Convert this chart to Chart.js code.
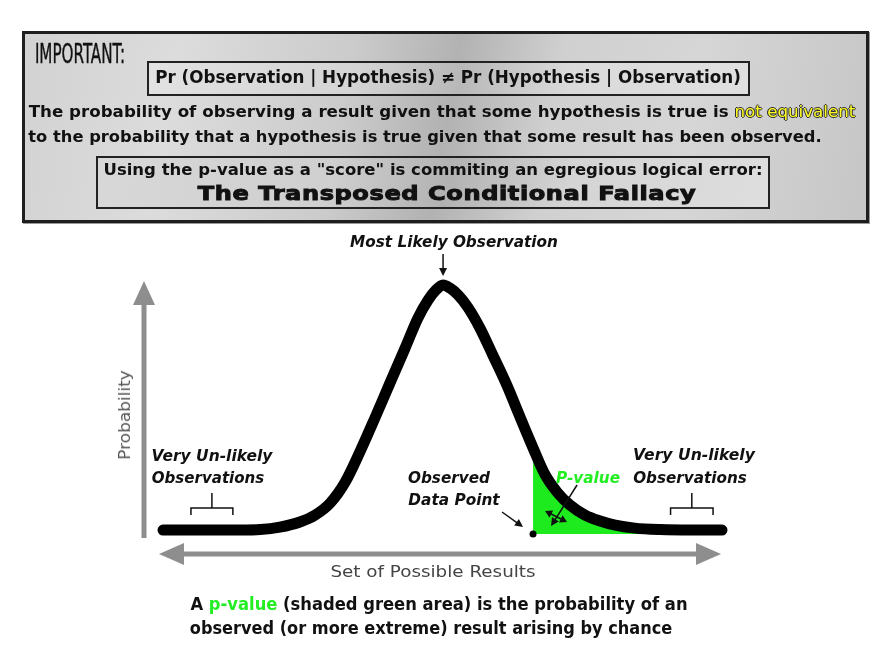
<!DOCTYPE html>
<html>
<head>
<meta charset="utf-8">
<script src="https://cdn.jsdelivr.net/npm/chart.js@4.4.1/dist/chart.umd.min.js"></script>
<style>
body { margin:0; width:890px; height:653px; background:#fff; overflow:hidden; position:relative; font-family:"DejaVu Sans", sans-serif; }
#grafica { position:absolute; left:0; top:0; }
.caja { position:absolute; box-sizing:border-box; }
#cajaGrande { left:22px; top:31px; width:847px; height:192px; border:3px solid #1e1e1e;
  background: linear-gradient(100deg, #d2d2d2 0%, #dcdcdc 18%, #cbcbcb 38%, #b2b2b2 50%, #d0d0d0 62%, #d6d6d6 78%, #c6c6c6 100%);
  box-shadow: 1px 1px 0 #999; }
#cajaFormula { left:147px; top:61px; width:603px; height:35px; border:2px solid #222;
  background: linear-gradient(100deg, #e2e2e2 0%, #d4d4d4 35%, #b8b8b8 52%, #dadada 70%, #e0e0e0 100%); }
#cajaFalacia { left:96px; top:156px; width:674px; height:53px; border:2px solid #222;
  background: linear-gradient(100deg, #d8d8d8 0%, #cfcfcf 35%, #b2b2b2 52%, #d4d4d4 70%, #dedede 100%); }
.t { position:absolute; white-space:nowrap; line-height:1; color:#111; }
.neg { font-weight:bold; }
.anot { font-weight:bold; font-style:italic; font-size:16px; color:#111; }
</style>
</head>
<body>
<div class="caja" id="cajaGrande"></div>
<div class="caja" id="cajaFormula"></div>
<div class="caja" id="cajaFalacia"></div>
<canvas id="grafica" width="890" height="653"></canvas>

<div class="t" data-x="80" data-y="53" data-w="90" style="font-family:'Liberation Sans Narrow','DejaVu Sans Condensed',sans-serif;font-size:27px;-webkit-text-stroke:0.4px #111;">IMPORTANT:</div>
<div class="t neg" data-x="448" data-y="77" data-w="586" style="font-size:17px;">Pr (Observation | Hypothesis) ≠ Pr (Hypothesis | Observation)</div>
<div class="t neg" data-x="441.5" data-y="112" data-w="827" style="font-size:16px;">The probability of observing a result given that some hypothesis is true is <span style="color:#ffff22;font-weight:normal;text-shadow:1px 0 #333,-1px 0 #333,0 1px #333,0 -1px #333;">not equivalent</span></div>
<div class="t neg" data-x="425" data-y="137" data-w="794" style="font-size:16px;">to the probability that a hypothesis is true given that some result has been observed.</div>
<div class="t neg" data-x="432.5" data-y="170" data-w="659" style="font-size:15px;">Using the p-value as a "score" is commiting an egregious logical error:</div>
<div class="t" data-x="446.5" data-y="193" data-w="499" style="font-size:20px;font-weight:900;letter-spacing:0.5px;-webkit-text-stroke:1px #111;">The Transposed Conditional Fallacy</div>

<div class="t anot" data-x="454" data-y="242" data-w="208">Most Likely Observation</div>
<div class="t anot" data-x="212" data-y="456" data-w="121">Very Un-likely</div>
<div class="t anot" data-x="208" data-y="478" data-w="113">Observations</div>
<div class="t anot" data-x="449" data-y="478" data-w="82">Observed</div>
<div class="t anot" data-x="453.5" data-y="500" data-w="91">Data Point</div>
<div class="t anot" data-x="588" data-y="478" data-w="64" style="color:#22ee22;">P-value</div>
<div class="t anot" data-x="694" data-y="455" data-w="122">Very Un-likely</div>
<div class="t anot" data-x="690" data-y="478" data-w="114">Observations</div>
<div class="t" data-x="125" data-y="415" data-w="90" data-r="-90" style="font-size:16px;color:#555;">Probability</div>
<div class="t" data-x="432.5" data-y="572" data-w="205" style="font-size:16px;color:#444;">Set of Possible Results</div>
<div class="t neg" data-x="438.5" data-y="604" data-w="497" style="font-size:18px;">A <span style="color:#22ee22;">p-value</span> (shaded green area) is the probability of an</div>
<div class="t neg" data-x="431" data-y="628" data-w="482" style="font-size:18px;">observed (or more extreme) result arising by chance</div>

<script>
// curva de resultados posibles (x) y su probabilidad relativa (y, pico = 100)
const resultados = [0, 6.6, 13.8, 17.4, 20.9, 24.5, 27.2, 29.9, 32.6, 35.2, 37.9, 40.6, 43.3, 45.6, 47.4, 48.8, 50.1, 51.3, 52.8, 54.5, 56.7, 59, 61.5, 63.8, 66.2, 68.3, 70.5, 72.8, 75.5, 78.2, 80.9, 84.4, 88.9, 94.3, 100];
const probabilidad = [0, 0, 0, 0.2, 1.2, 3.3, 6.1, 11, 19.6, 31.8, 45.7, 60, 74.2, 86.5, 93.8, 97.9, 100, 98.8, 95.9, 91, 82.4, 71.4, 59.2, 46.5, 33.5, 22.8, 15.5, 10.2, 6.1, 3.7, 2, 0.8, 0.2, 0, 0];
const pico = 50.1;
const observado = 66.2;
const pisoY = -1.6;
const corchetes = [[5, 8.75, 12.5], [90.8, 94.6, 98.4]];

const curva = resultados.map(function(x, i){ return {x: x, y: probabilidad[i]}; });
const cola = curva.filter(function(p){ return p.x >= observado; });

function punta(ctx, x1, y1, x2, y2, largo, ancho){
    const ang = Math.atan2(y2 - y1, x2 - x1);
    ctx.beginPath();
    ctx.moveTo(x2, y2);
    ctx.lineTo(x2 - Math.cos(ang) * largo + Math.sin(ang) * ancho, y2 - Math.sin(ang) * largo - Math.cos(ang) * ancho);
    ctx.lineTo(x2 - Math.cos(ang) * largo - Math.sin(ang) * ancho, y2 - Math.sin(ang) * largo + Math.cos(ang) * ancho);
    ctx.closePath();
    ctx.fill();
}

function flecha(ctx, x1, y1, x2, y2, largo, ancho, doble){
    const ang = Math.atan2(y2 - y1, x2 - x1);
    const dx = Math.cos(ang) * largo * 0.8;
    const dy = Math.sin(ang) * largo * 0.8;
    ctx.beginPath();
    ctx.moveTo(doble ? x1 + dx : x1, doble ? y1 + dy : y1);
    ctx.lineTo(x2 - dx, y2 - dy);
    ctx.stroke();
    punta(ctx, x1, y1, x2, y2, largo, ancho);
    if(doble){
        punta(ctx, x2, y2, x1, y1, largo, ancho);
    }
}

const adornos = {
    id: 'adornos',
    afterDatasetsDraw(chart){
        const ctx = chart.ctx;
        const a = chart.chartArea;
        const sx = chart.scales.x;
        const sy = chart.scales.y;
        ctx.save();

        // ejes grises con flechas
        ctx.strokeStyle = '#8e8e8e';
        ctx.fillStyle = '#8e8e8e';
        ctx.lineWidth = 5;
        const ejeX = a.left - 19;
        flecha(ctx, ejeX, a.bottom + 4, ejeX, a.top - 4, 24, 11);
        const ejeY = a.bottom + 20;
        flecha(ctx, a.left - 4, ejeY, a.right - 1, ejeY, 25, 11, true);

        // corchetes
        ctx.strokeStyle = '#111';
        ctx.fillStyle = '#111';
        ctx.lineWidth = 1.5;
        corchetes.forEach(function(c){
            const x1 = sx.getPixelForValue(c[0]);
            const xm = sx.getPixelForValue(c[1]);
            const x2 = sx.getPixelForValue(c[2]);
            ctx.beginPath();
            ctx.moveTo(x1, 515); ctx.lineTo(x1, 508); ctx.lineTo(x2, 508); ctx.lineTo(x2, 515);
            ctx.moveTo(xm, 508); ctx.lineTo(xm, 493);
            ctx.stroke();
        });

        // flechas negras de las notas
        const xp = sx.getPixelForValue(pico);
        const yp = sy.getPixelForValue(100);
        flecha(ctx, xp, yp - 31, xp, yp - 9, 8, 4);
        const xo = sx.getPixelForValue(observado);
        const yo = sy.getPixelForValue(pisoY);
        flecha(ctx, xo - 31, yo - 22, xo - 10, yo - 7, 8, 4);
        flecha(ctx, xo + 44, yo - 49, xo + 18, yo - 8, 8, 4);
        flecha(ctx, xo + 12, yo - 23, xo + 34, yo - 12, 7, 4, true);
        ctx.restore();
    }
};

new Chart(document.getElementById('grafica'), {
    type: 'scatter',
    data: {
        datasets: [
            {
                data: [{x: observado, y: pisoY}],
                pointRadius: 3.5,
                pointBackgroundColor: '#000',
                pointBorderWidth: 0,
                order: 0,
                clip: false
            },
            {
                data: curva,
                showLine: true,
                borderColor: '#000',
                borderWidth: 11,
                borderCapStyle: 'round',
                borderJoinStyle: 'round',
                cubicInterpolationMode: 'monotone',
                pointRadius: 0,
                order: 1,
                clip: false
            },
            {
                data: cola,
                showLine: true,
                borderWidth: 0,
                borderColor: 'rgba(0,0,0,0)',
                backgroundColor: '#1eeb1e',
                fill: 'start',
                cubicInterpolationMode: 'monotone',
                pointRadius: 0,
                order: 2,
                clip: false
            }
        ]
    },
    options: {
        responsive: false,
        animation: false,
        events: [],
        layout: { padding: { left: 163, right: 168, top: 285, bottom: 119 } },
        plugins: { legend: { display: false }, tooltip: { enabled: false } },
        scales: {
            x: { type: 'linear', display: false, min: 0, max: 100 },
            y: { display: false, min: pisoY, max: 100 }
        }
    },
    plugins: [adornos]
});

document.querySelectorAll('.t').forEach(function(el){
    const s = parseFloat(el.dataset.w) / el.offsetWidth;
    const r = el.dataset.r || 0;
    el.style.left = el.dataset.x + 'px';
    el.style.top = el.dataset.y + 'px';
    el.style.transform = 'translate(-50%,-50%) rotate(' + r + 'deg) scaleX(' + s.toFixed(3) + ')';
});
</script>
</body>
</html>
